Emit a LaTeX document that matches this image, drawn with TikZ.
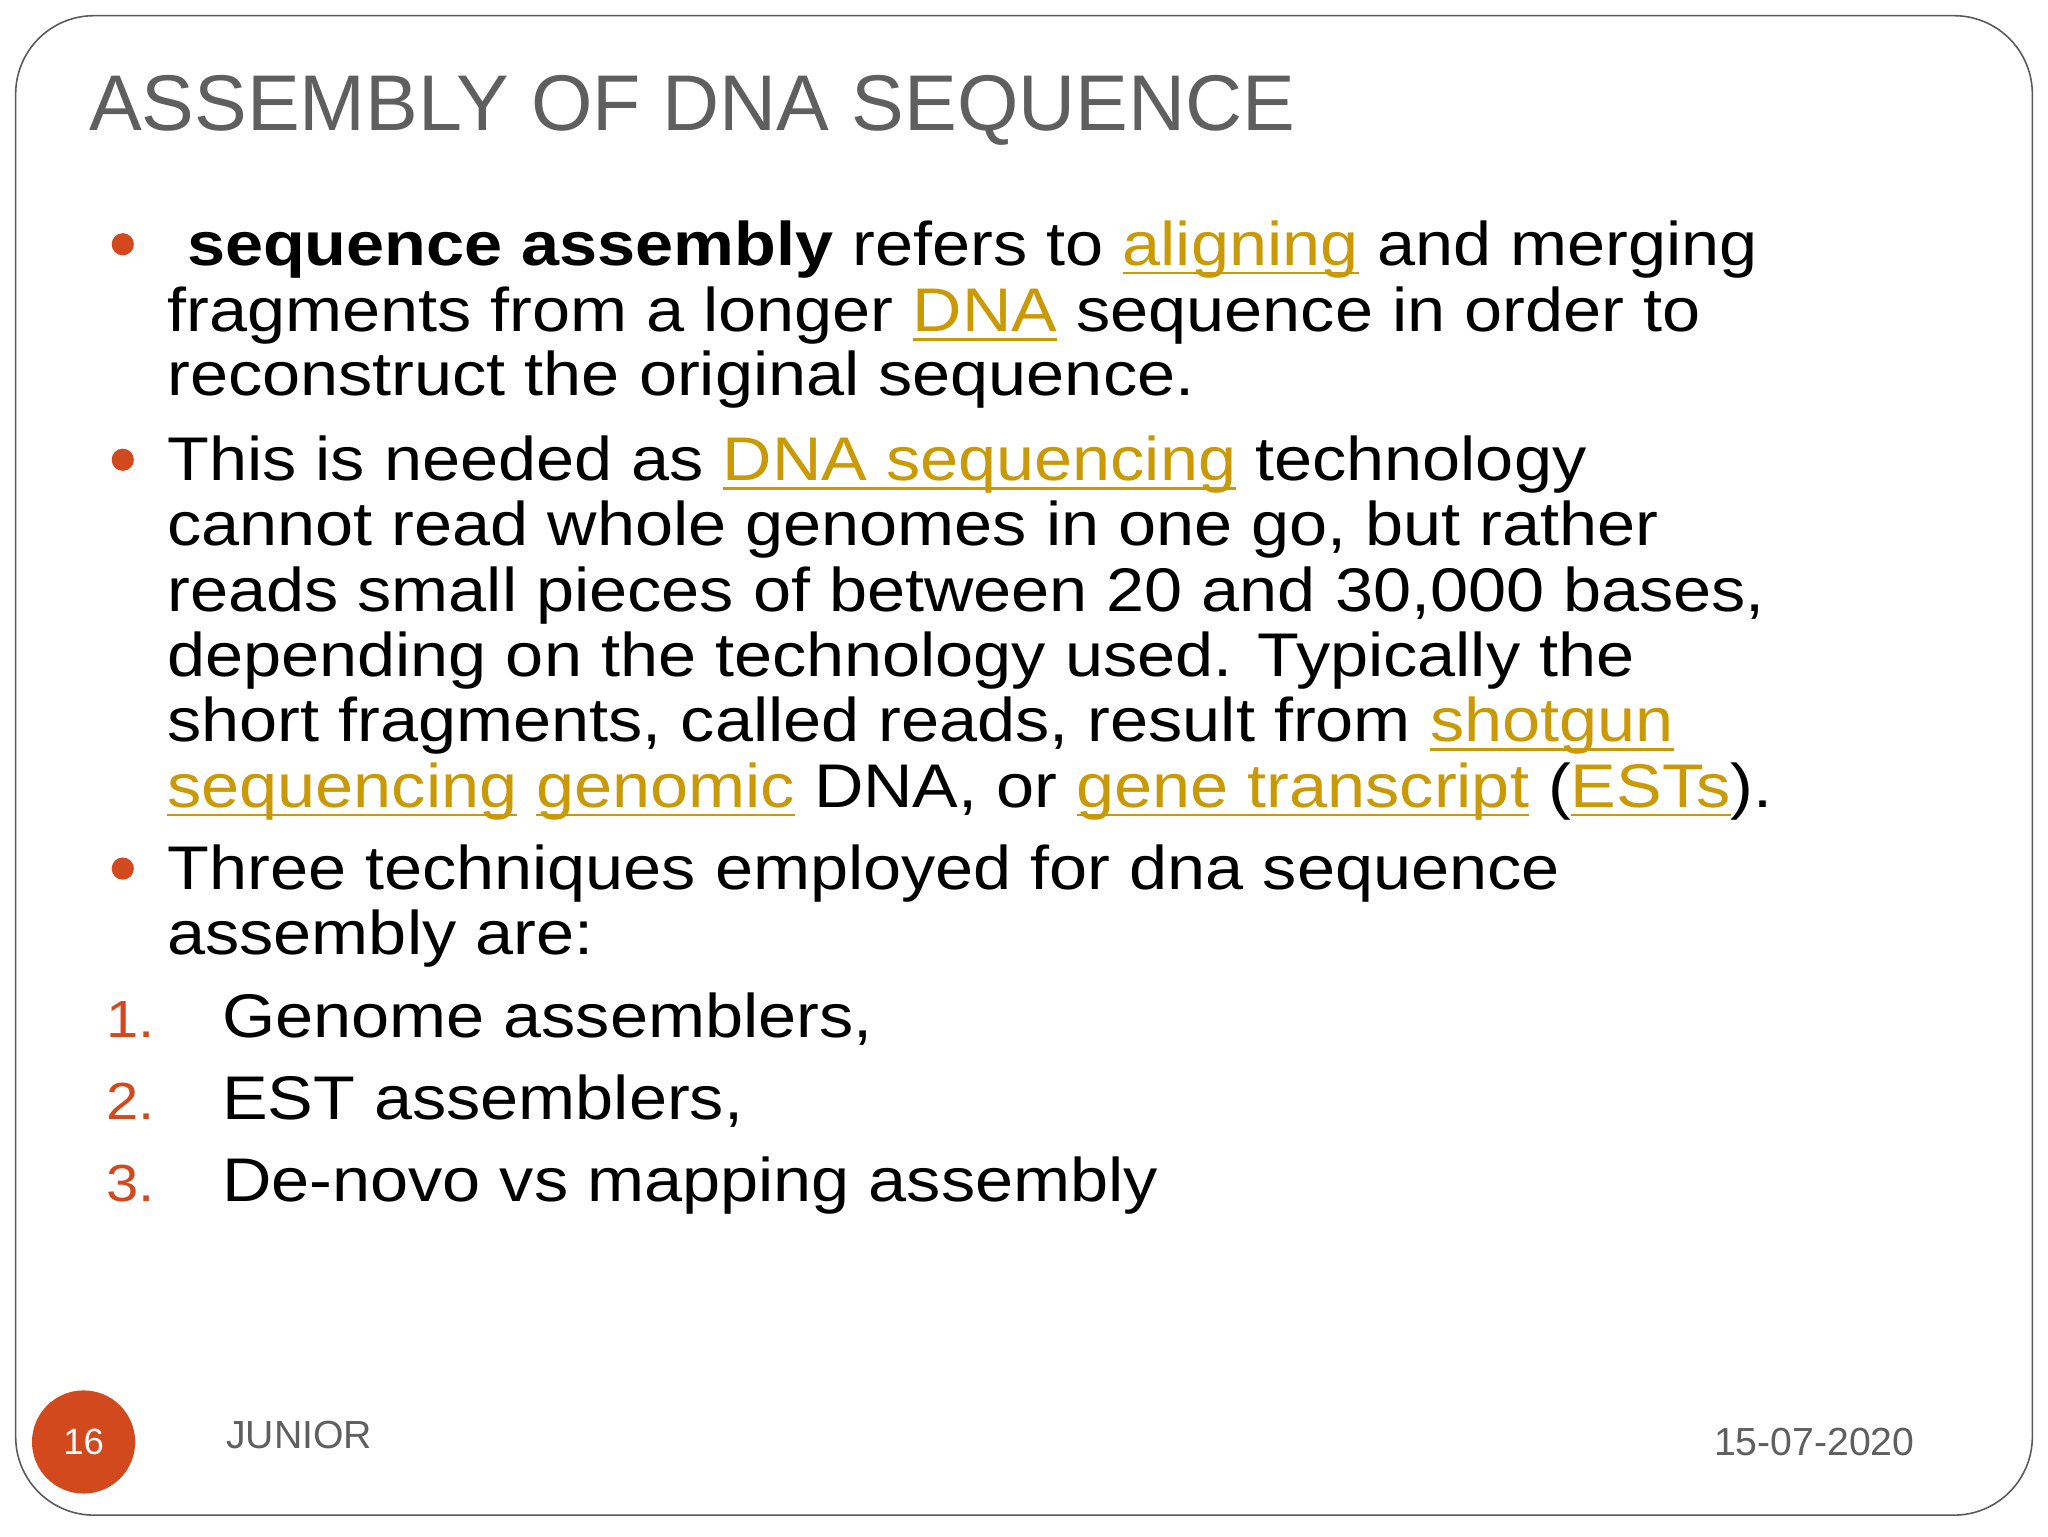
\documentclass[tikz,border=0pt]{standalone}
\usepackage{fontspec}
\setmainfont{Liberation Sans}
\newfontfamily\bodyf[FakeStretch=1.11]{Liberation Sans}
\definecolor{lnk}{HTML}{C99A06}
\definecolor{acc}{HTML}{D2491D}
\definecolor{ttl}{HTML}{5F5F5F}
\newcommand{\lk}[1]{{\color{lnk}\setbox0\hbox{#1}\rlap{\rule[-7pt]{\wd0}{2pt}}\box0}}
\tikzset{ln/.style={anchor=base west,inner sep=0pt,font=\bodyf\fontsize{47.2}{50}\selectfont},
 dot/.style={circle,fill=acc,inner sep=0pt,minimum size=17pt},
 num/.style={anchor=base west,inner sep=0pt,text=acc,font=\bodyf\fontsize{40}{44}\selectfont}}
\begin{document}
\begin{tikzpicture}[x=1pt,y=-1pt]
\useasboundingbox (0,0) rectangle (1568,1176);
\fill[white] (0,0) rectangle (1568,1176);
\draw[gray!70!black,line width=1.2pt,rounded corners=60pt] (12,12) rectangle (1556,1160);
\node[anchor=base west,inner sep=0pt,text=ttl,font=\fontsize{60.5}{70}\selectfont] (t) at (68,100) {ASSEMBLY OF DNA SEQUENCE};
\node[dot] (b1) at (94,187) {};
\node[dot] (b2) at (94,352) {};
\node[dot] (b3) at (94,665) {};
\node[ln] (l1) at (143,203) {\textbf{sequence assembly} refers to \lk{aligning} and merging};
\node[ln] (l2) at (128,254) {fragments from a longer \lk{DNA} sequence in order to};
\node[ln] (l3) at (128,303) {reconstruct the original sequence.};
\node[ln] (l4) at (128,368) {This is needed as \lk{DNA sequencing} technology};
\node[ln] (l5) at (128,418) {cannot read whole genomes in one go, but rather};
\node[ln] (l6) at (128,468) {reads small pieces of between 20 and 30,000 bases,};
\node[ln] (l7) at (128,518) {depending on the technology used. Typically the};
\node[ln] (l8) at (128,568) {short fragments, called reads, result from \lk{shotgun}};
\node[ln] (l9) at (128,618) {\lk{sequencing} \lk{genomic} DNA, or \lk{gene transcript} (\lk{ESTs}).};
\node[ln] (l10) at (128,681) {Three techniques employed for dna sequence};
\node[ln] (l11) at (128,731) {assembly are:};
\node[num] (n1) at (81,794) {1.};
\node[num] (n2) at (81,857) {2.};
\node[num] (n3) at (81,920) {3.};
\node[ln] (e1) at (170,794) {Genome assemblers,};
\node[ln] (e2) at (170,857) {EST assemblers,};
\node[ln] (e3) at (170,920) {De-novo vs mapping assembly};
\node[circle,fill=acc,minimum size=79pt,inner sep=0pt,text=white,font=\fontsize{28}{32}\selectfont] (pg) at (64,1104) {16};
\node[anchor=west,inner sep=0pt,text=ttl,font=\fontsize{30}{34}\selectfont] (j) at (173,1099) {JUNIOR};
\node[anchor=east,inner sep=0pt,text=ttl,font=\fontsize{30}{34}\selectfont] (d) at (1466,1104) {15-07-2020};
\end{tikzpicture}
\end{document}
